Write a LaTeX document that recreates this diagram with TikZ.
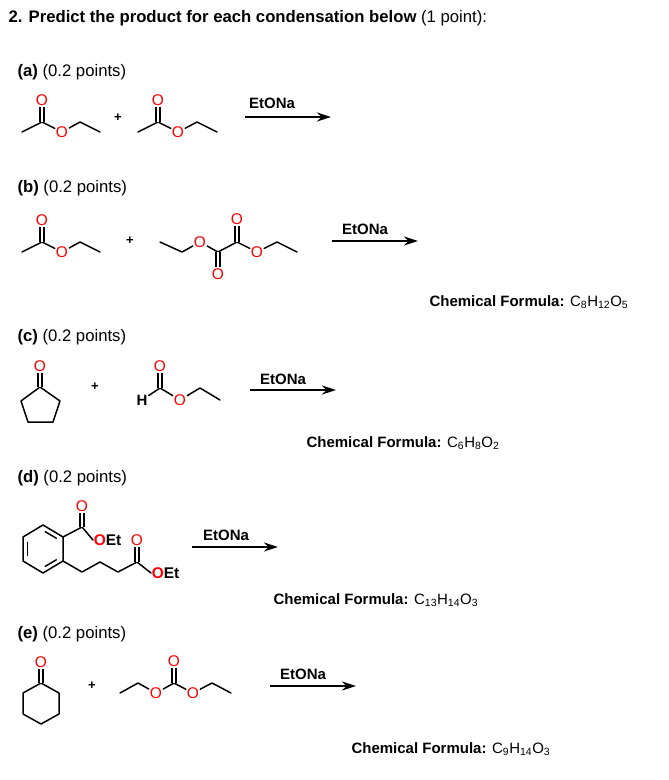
\documentclass[tikz,border=0pt]{standalone}
\usepackage{fontspec}
\setmainfont{Liberation Sans}
\usetikzlibrary{arrows.meta}
\begin{document}
\begin{tikzpicture}[x=1pt,y=-1pt,
  bd/.style={line width=1.5pt,line cap=round,line join=round},
  db/.style={double,double distance=2.6pt,line width=1.3pt},
  ox/.style={text=red,font=\fontsize{15.5}{15.5}\selectfont,inner sep=1pt},
  hx/.style={font=\fontsize{15}{15}\selectfont\bfseries,inner sep=1pt},
  lbl/.style={anchor=west,font=\fontsize{16.7}{18}\selectfont},
  rx/.style={-{Stealth[length=14pt,width=9pt]},line width=1.6pt},
  cond/.style={font=\fontsize{15}{16}\selectfont\bfseries},
  plus/.style={font=\fontsize{13}{13}\selectfont\bfseries},
  form/.style={anchor=west,font=\fontsize{15}{16}\selectfont}]
\useasboundingbox (0,0) rectangle (669,780);
\node[lbl] (title) at (5,18) {\textbf{2. Predict the product for each condensation below} (1 point):};
% (a)
\node[lbl] (la) at (14,72) {\textbf{(a)} (0.2 points)};
\coordinate (a1m) at (22,132); \coordinate (a1c) at (42,122);
\node[ox] (a1o) at (42,100) {O}; \node[ox] (a1e) at (62,132) {O};
\coordinate (a1h) at (80,122); \coordinate (a1t) at (100,132);
\draw[bd] (a1m)--(a1c)--(a1e)--(a1h)--(a1t);
\draw[db] (a1c)--(a1o);
\node[plus] (pa) at (118,118) {+};
\coordinate (a2m) at (138,132); \coordinate (a2c) at (158,122);
\node[ox] (a2o) at (158,100) {O}; \node[ox] (a2e) at (178,132) {O};
\coordinate (a2h) at (197,122); \coordinate (a2t) at (217,132);
\draw[bd] (a2m)--(a2c)--(a2e)--(a2h)--(a2t);
\draw[db] (a2c)--(a2o);
\coordinate (ar1s) at (245,117); \coordinate (ar1e) at (331,117);
\draw[rx] (ar1s)--(ar1e);
\node[cond] (c1) at (272,103) {EtONa};
% (b)
\node[lbl] (lb) at (14,188) {\textbf{(b)} (0.2 points)};
\coordinate (b1m) at (22,252); \coordinate (b1c) at (42,242);
\node[ox] (b1o) at (42,220) {O}; \node[ox] (b1e) at (62,252) {O};
\coordinate (b1h) at (80,242); \coordinate (b1t) at (100,252);
\draw[bd] (b1m)--(b1c)--(b1e)--(b1h)--(b1t);
\draw[db] (b1c)--(b1o);
\node[plus] (pb) at (130,241) {+};
\coordinate (b2t) at (160,242); \coordinate (b2h) at (182,252);
\node[ox] (b2e) at (200,242) {O}; \coordinate (b2c) at (218,252);
\node[ox] (b2o) at (218,274) {O}; \coordinate (b2d) at (237,242);
\node[ox] (b2p) at (237,219) {O}; \node[ox] (b2f) at (257,252) {O};
\coordinate (b2i) at (277,242); \coordinate (b2u) at (297,252);
\draw[bd] (b2t)--(b2h)--(b2e)--(b2c)--(b2d)--(b2f)--(b2i)--(b2u);
\draw[db] (b2c)--(b2o); \draw[db] (b2d)--(b2p);
\coordinate (ar2s) at (332,241); \coordinate (ar2e) at (418,241);
\draw[rx] (ar2s)--(ar2e);
\node[cond] (c2) at (365,229) {EtONa};
\node[form] (f2) at (426,302) {\textbf{Chemical Formula:} C\textsubscript{8}H\textsubscript{12}O\textsubscript{5}};
% (c)
\node[lbl] (lc) at (14,337) {\textbf{(c)} (0.2 points)};
\node[ox] (c1o) at (40,366) {O}; \coordinate (r1) at (40,387);
\coordinate (r2) at (60,401); \coordinate (r3) at (53,422);
\coordinate (r4) at (28,422); \coordinate (r5) at (21,401);
\draw[bd] (r1)--(r2)--(r3)--(r4)--(r5)--cycle;
\draw[db] (r1)--(c1o);
\node[plus] (pc) at (95,387) {+};
\node[hx] (ch) at (142,400) {H}; \coordinate (cc) at (160,388);
\node[ox] (co) at (160,366) {O}; \node[ox] (ce) at (180,400) {O};
\coordinate (chh) at (200,388); \coordinate (ct) at (220,400);
\draw[bd] (ch)--(cc)--(ce)--(chh)--(ct);
\draw[db] (cc)--(co);
\coordinate (ar3s) at (250,390); \coordinate (ar3e) at (336,390);
\draw[rx] (ar3s)--(ar3e);
\node[cond] (c3) at (283,379) {EtONa};
\node[form] (f3) at (303,443) {\textbf{Chemical Formula:} C\textsubscript{6}H\textsubscript{8}O\textsubscript{2}};
% (d)
\node[lbl] (ld) at (14,478) {\textbf{(d)} (0.2 points)};
\coordinate (k1) at (43,525); \coordinate (k2) at (63,537);
\coordinate (k3) at (63,561); \coordinate (k4) at (43,573);
\coordinate (k5) at (23,561); \coordinate (k6) at (23,537);
\draw[bd] (k1)--(k2)--(k3)--(k4)--(k5)--(k6)--cycle;
\coordinate (i1) at (45.3,531.7); \coordinate (i2) at (56.3,538.2);
\coordinate (i3) at (56.3,559.8); \coordinate (i4) at (45.3,566.3);
\coordinate (i5) at (27.4,555.6); \coordinate (i6) at (27.4,542.4);
\draw[bd] (i1)--(i2); \draw[bd] (i3)--(i4); \draw[bd] (i5)--(i6);
\coordinate (dc) at (82,527); \node[ox] (do) at (82,506) {O};
\node[ox,anchor=west,inner sep=0.6pt,font=\fontsize{15.5}{15.5}\selectfont\bfseries] (de) at (93,540) {O\textcolor{black}{Et}};
\draw[bd] (k2)--(dc)--(de.west);
\draw[db] (dc)--(do);
\coordinate (d1) at (82,572); \coordinate (d2) at (100,562);
\coordinate (d3) at (118,572); \coordinate (d4) at (137,562);
\node[ox] (d4o) at (137,540) {O};
\node[ox,anchor=west,inner sep=0.6pt,font=\fontsize{15.5}{15.5}\selectfont\bfseries] (d4e) at (151,573) {O\textcolor{black}{Et}};
\draw[bd] (k3)--(d1)--(d2)--(d3)--(d4)--(d4e.west);
\draw[db] (d4)--(d4o);
\coordinate (ar4s) at (192,547); \coordinate (ar4e) at (278,547);
\draw[rx] (ar4s)--(ar4e);
\node[cond] (c4) at (226,535) {EtONa};
\node[form] (f4) at (270,600) {\textbf{Chemical Formula:} C\textsubscript{13}H\textsubscript{14}O\textsubscript{3}};
% (e)
\node[lbl] (le) at (14,634) {\textbf{(e)} (0.2 points)};
\node[ox] (eo) at (41,662) {O}; \coordinate (s1) at (41,683);
\coordinate (s2) at (59,693); \coordinate (s3) at (59,714);
\coordinate (s4) at (41,724); \coordinate (s5) at (23,714); \coordinate (s6) at (23,693);
\draw[bd] (s1)--(s2)--(s3)--(s4)--(s5)--(s6)--cycle;
\draw[db] (s1)--(eo);
\node[plus] (pe) at (92,686) {+};
\coordinate (e1) at (120,693); \coordinate (e2) at (138,683);
\node[ox] (e3) at (156,693) {O}; \coordinate (e4) at (174,683);
\node[ox] (e4o) at (174,661) {O}; \node[ox] (e5) at (193,693) {O};
\coordinate (e6) at (212,683); \coordinate (e7) at (231,693);
\draw[bd] (e1)--(e2)--(e3)--(e4)--(e5)--(e6)--(e7);
\draw[db] (e4)--(e4o);
\coordinate (ar5s) at (270,686); \coordinate (ar5e) at (356,686);
\draw[rx] (ar5s)--(ar5e);
\node[cond] (c5) at (303,674) {EtONa};
\node[form] (f5) at (348,749) {\textbf{Chemical Formula:} C\textsubscript{9}H\textsubscript{14}O\textsubscript{3}};
\end{tikzpicture}
\end{document}
